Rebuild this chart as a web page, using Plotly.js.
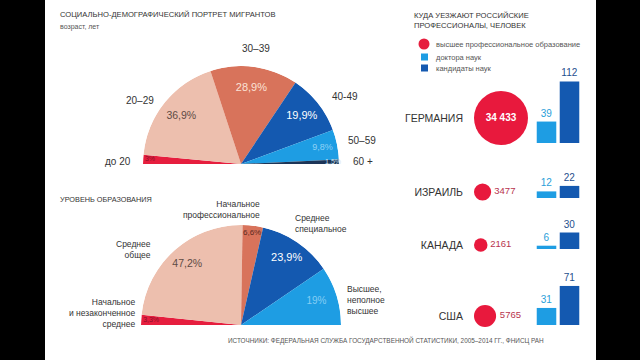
<!DOCTYPE html>
<html><head><meta charset="utf-8">
<script src="https://cdn.plot.ly/plotly-3.0.1.min.js"></script>
<style>html,body{margin:0;padding:0;background:#000;overflow:hidden}#chart{width:640px;height:360px}</style>
</head><body><div id="chart"></div>
<script>
// ---------- DATA ----------
const ageLabels = ['до 20', '20–29', '30–39', '40-49', '50–59', '60 +'];
const agePct = [3, 36.9, 28.9, 19.9, 9.8, 1.5];
const agePctText = ['3%', '36,9%', '28,9%', '19,9%', '9,8%', '1,5%'];

const eduLabels = ['Начальное<br>и незаконченное<br>среднее', 'Среднее<br>общее', 'Начальное<br>профессиональное', 'Среднее<br>специальное', 'Высшее,<br>неполное<br>высшее'];
const eduPct = [3.3, 47.2, 6.6, 23.9, 19];
const eduPctText = ['3,3%', '47,2%', '6,6%', '23,9%', '19%'];

const countries = ['ГЕРМАНИЯ', 'ИЗРАИЛЬ', 'КАНАДА', 'США'];
const higherEdu = [34433, 3477, 2161, 5765];
const higherEduText = ['34 433', '3477', '2161', '5765'];
const barCats = ['доктора наук', 'кандидаты наук'];
const doctors = [39, 12, 6, 31];
const candidates = [112, 22, 30, 71];

// ---------- STYLE ----------
const W = 640, H = 360;
const FONT = 'Liberation Sans, Arial, sans-serif';
const RED = '#e61e3e', PEACH = '#edbfae', TERRA = '#d8735b', DBLUE = '#1459b0', LBLUE = '#1e9de3', NAVY = '#1d3557';
const ageColors = [RED, PEACH, TERRA, DBLUE, LBLUE, NAVY];
const eduColors = [RED, PEACH, TERRA, DBLUE, LBLUE];
const ageTextR = [0.93, 0.78, 0.78, 0.79, 0.85, 0.94];
const ageTextColor = ['#8a1028', '#5e4b45', '#fbe2d6', '#ffffff', '#8fd2f6', '#cfe4f2'];
const ageTextSize = [7, 10.5, 11, 11, 9, 7];
const eduTextR = [0.9, 0.81, 0.93, 0.81, 0.79];
const eduTextColor = ['#8a1028', '#5e4b45', '#5a2a1f', '#ffffff', '#86cdf4'];
const eduTextSize = [7, 10.5, 8, 11, 10];
const circleRowY = [118, 192, 245, 316];
const barBaseY = [143, 198, 249, 325];
const CIRCLE_LEFT = 474, MAX_DIAM = 54;

const px = x => x / W, py = y => 1 - y / H;

function halfPie(values) {
  const k = 180 / values.reduce((a, b) => a + b, 0);
  let acc = 0; const mid = [], wid = [];
  values.forEach(v => { wid.push(v * k); mid.push(acc + v * k / 2); acc += v * k; });
  return {mid, wid};
}

const traces = [];
function addPie(values, colors, texts, textR, textColor, textSize, subplot) {
  const p = halfPie(values);
  traces.push({type: 'barpolar', subplot, r: values.map(() => 1), theta: p.mid, width: p.wid,
    marker: {color: colors, line: {width: 0}}, hoverinfo: 'skip', showlegend: false});
  traces.push({type: 'scatterpolar', subplot, mode: 'text', r: textR, theta: p.mid, text: texts,
    textfont: {family: FONT, size: textSize, color: textColor}, hoverinfo: 'skip', showlegend: false, cliponaxis: false});
}
addPie(agePct, ageColors, agePctText, ageTextR, ageTextColor, ageTextSize, 'polar');
addPie(eduPct, eduColors, eduPctText, eduTextR, eduTextColor, eduTextSize, 'polar2');

const polarBase = (cx, cy, r) => ({
  domain: {x: [px(cx - r), px(cx + r)], y: [py(cy), py(cy - r)]},
  sector: [0, 180], hole: 0, bgcolor: 'rgba(0,0,0,0)',
  radialaxis: {range: [0, 1], visible: false},
  angularaxis: {rotation: 180, direction: 'clockwise', visible: false}
});

const layout = {
  width: W, height: H, margin: {l: 0, r: 0, t: 0, b: 0},
  paper_bgcolor: '#ffffff', plot_bgcolor: 'rgba(0,0,0,0)',
  showlegend: false, bargap: 0.15,
  font: {family: FONT, color: '#333'},
  polar: polarBase(241, 164, 98),
  polar2: polarBase(241, 325, 100),
  shapes: [
    {type: 'rect', xref: 'paper', yref: 'paper', x0: 0, x1: px(45), y0: 0, y1: 1, fillcolor: '#000', line: {width: 0}, layer: 'above'},
    {type: 'rect', xref: 'paper', yref: 'paper', x0: px(596), x1: 1, y0: 0, y1: 1, fillcolor: '#000', line: {width: 0}, layer: 'above'},
    {type: 'circle', xref: 'paper', yref: 'paper', x0: px(418.5), x1: px(429.5), y0: py(49.5), y1: py(38.5), fillcolor: RED, line: {width: 0}},
    {type: 'rect', xref: 'paper', yref: 'paper', x0: px(421), x1: px(428), y0: py(60.5), y1: py(53.5), fillcolor: LBLUE, line: {width: 0}},
    {type: 'rect', xref: 'paper', yref: 'paper', x0: px(421), x1: px(428), y0: py(71.5), y1: py(64.5), fillcolor: DBLUE, line: {width: 0}}
  ],
  annotations: []
};

function ann(text, x, y, size, opts) {
  layout.annotations.push(Object.assign({text, x: px(x), y: py(y), xref: 'paper', yref: 'paper', showarrow: false,
    xanchor: 'center', yanchor: 'middle', font: {family: FONT, size, color: '#333'}}, opts || {}));
}
// titles
ann('СОЦИАЛЬНО-ДЕМОГРАФИЧЕСКИЙ ПОРТРЕТ МИГРАНТОВ', 58, 15, 7.6, {xanchor: 'left'});
ann('возраст, лет', 58, 27, 7, {xanchor: 'left', font: {family: FONT, size: 7, color: '#555'}});
ann('УРОВЕНЬ ОБРАЗОВАНИЯ', 58, 199, 7.3, {xanchor: 'left'});
ann('КУДА УЕЗЖАЮТ РОССИЙСКИЕ<br>ПРОФЕССИОНАЛЫ, ЧЕЛОВЕК', 412, 20, 7.6, {xanchor: 'left', align: 'left'});
ann('высшее профессиональное образование', 434, 44, 7.5, {xanchor: 'left', font: {family: FONT, size: 7.5, color: '#555'}});
ann(barCats[0], 434, 57, 7.5, {xanchor: 'left', font: {family: FONT, size: 7.5, color: '#555'}});
ann(barCats[1], 434, 68, 7.5, {xanchor: 'left', font: {family: FONT, size: 7.5, color: '#555'}});
ann('ИСТОЧНИКИ: ФЕДЕРАЛЬНАЯ СЛУЖБА ГОСУДАРСТВЕННОЙ СТАТИСТИКИ, 2005–2014 ГГ., ФНИСЦ РАН', 226, 340, 6.4, {xanchor: 'left', font: {family: FONT, size: 6.4, color: '#555'}});
// age outer labels
const ageLabelPos = [[118, 161], [140, 100], [256, 49], [345, 97], [362, 141], [363, 162]];
ageLabels.forEach((t, i) => ann(t, ageLabelPos[i][0], ageLabelPos[i][1], 10));
// edu outer labels
const eduLabelPos = [[137, 313, 'right'], [153, 249, 'right'], [262, 209, 'right'], [293, 223, 'left'], [345, 300, 'left']];
eduLabels.forEach((t, i) => ann(t, eduLabelPos[i][0], eduLabelPos[i][1], 8.5, {xanchor: eduLabelPos[i][2], align: eduLabelPos[i][2]}));

// right panel: circles (area ∝ value) + bars per country
const maxEdu = Math.max(...higherEdu);
countries.forEach((c, i) => {
  const bi = i + 1, ci = i + 5;
  const bx = 'x' + bi, by = 'y' + bi, cx = 'x' + ci, cy = 'y' + ci;
  // bars
  traces.push({type: 'bar', xaxis: bx, yaxis: by, x: barCats, y: [doctors[i], candidates[i]],
    marker: {color: [LBLUE, DBLUE]}, text: [String(doctors[i]), String(candidates[i])], textposition: 'outside',
    textfont: {family: FONT, size: 10, color: ['#2a9ed9', '#1f4f8e']}, cliponaxis: false, hoverinfo: 'skip'});
  layout['xaxis' + bi] = {domain: [px(535), px(581)], anchor: by, type: 'category', visible: false, fixedrange: true};
  layout['yaxis' + bi] = {domain: [py(barBaseY[i]), py(barBaseY[i] - 66)], anchor: bx, range: [0, 120], visible: false, fixedrange: true};
  // circle
  const diam = MAX_DIAM * Math.sqrt(higherEdu[i] / maxEdu);
  const big = i === 0;
  traces.push({type: 'scatter', mode: 'markers+text', xaxis: cx, yaxis: cy, x: [0], y: [c],
    marker: {size: diam, color: '#e8193d', opacity: 1, line: {width: 0}},
    text: [higherEduText[i]], textposition: big ? 'middle center' : 'middle right',
    textfont: {family: FONT, size: big ? 10 : 9.5, color: big ? '#ffffff' : '#b8344e', weight: big ? 'bold' : 'normal'},
    cliponaxis: false, hoverinfo: 'skip'});
  layout['xaxis' + ci] = {domain: [px(CIRCLE_LEFT), px(CIRCLE_LEFT + diam)], anchor: cy, range: [-1, 1], visible: false, fixedrange: true};
  layout['yaxis' + ci] = {domain: [py(circleRowY[i] + 10), py(circleRowY[i] - 10)], anchor: cx, type: 'category', range: [-1, 1],
    showgrid: false, zeroline: false, showline: false, ticks: '', ticklabelstandoff: 10,
    tickfont: {family: FONT, size: 10.5, color: '#333'}, fixedrange: true};
});

Plotly.newPlot('chart', traces, layout, {staticPlot: true, displayModeBar: false});
</script></body></html>
